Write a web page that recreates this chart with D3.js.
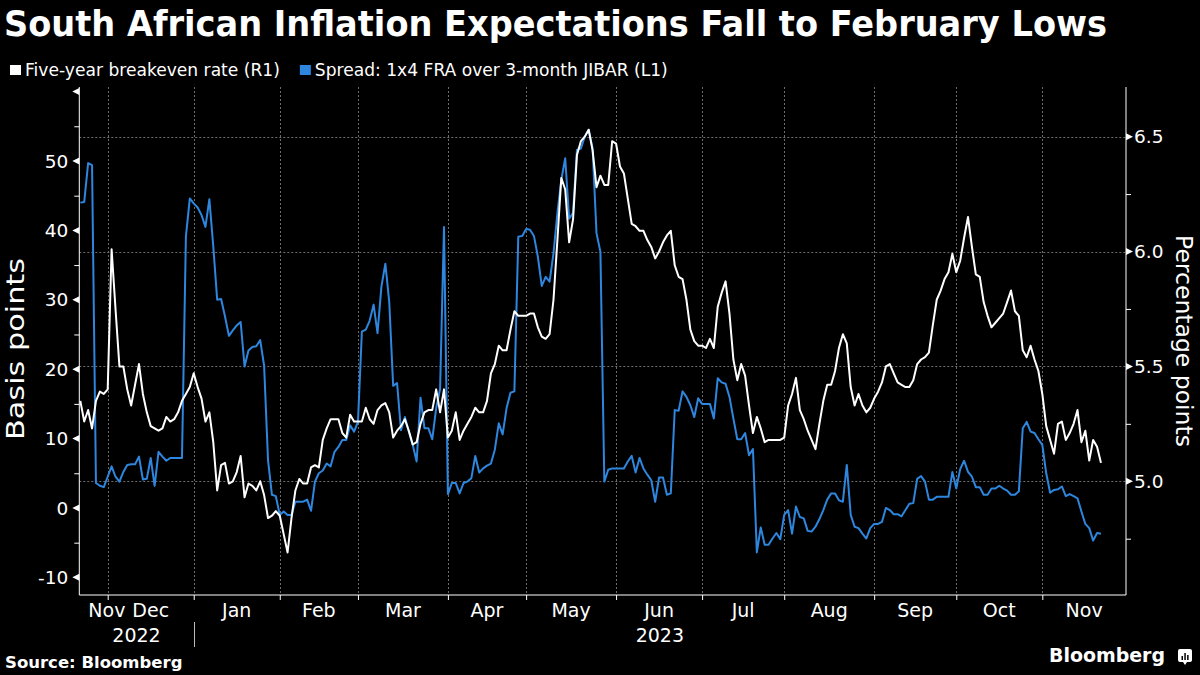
<!DOCTYPE html>
<html>
<head>
<meta charset="utf-8">
<script src="https://cdn.jsdelivr.net/npm/d3@7"></script>
<style>
  html, body { margin: 0; padding: 0; background: #000; }
  svg { display: block; }
  text { font-family: "DejaVu Sans", "Noto Sans", sans-serif; fill: #fff; }
</style>
</head>
<body>
<svg id="chart" width="1200" height="675"></svg>
<script>
// ---------------- DATA ----------------
const titleText = "South African Inflation Expectations Fall to February Lows";
const seriesNames = ["Five-year breakeven rate (R1)", "Spread: 1x4 FRA over 3-month JIBAR (L1)"];
const sourceText = "Source: Bloomberg";
const leftAxisTitle = "Basis points";
const rightAxisTitle = "Percentage points";

// one value per weekday (business day), starting at startDate
const startDate = "2022-11-22";
const axisEndDate = "2023-11-30";

const monthNames = ["Jan","Feb","Mar","Apr","May","Jun","Jul","Aug","Sep","Oct","Nov","Dec"];
const leftTicks = [-10, 0, 10, 20, 30, 40, 50, 60];
const leftTickLabels = ["-10", "0", "10", "20", "30", "40", "50", ""];
const leftMinorTicks = [-5, 5, 15, 25, 35, 45, 55];
const rightTicks = [5.0, 5.5, 6.0, 6.5];
const rightTickLabels = ["5.0", "5.5", "6.0", "6.5"];
const rightMinorTicks = [4.75, 5.25, 5.75, 6.25];
const leftDomain = [-12.54, 60.66];
const rightDomain = [4.505, 6.716];

// Spread: 1x4 FRA over 3-month JIBAR, basis points (left axis)
const spread = [
  44.0,44.1,49.7,49.4,3.6,3.2,3.0,4.5,6.0,4.5,
  3.8,5.2,6.2,6.3,6.3,7.4,4.1,4.2,7.2,3.2,
  8.1,7.4,6.8,7.2,7.2,7.2,7.2,39.1,44.6,43.9,
  43.3,42.2,40.5,44.5,37.7,30.0,30.1,27.6,24.8,25.6,
  26.3,26.8,20.4,22.7,23.2,23.3,24.2,20.5,6.9,1.9,
  1.7,-1.0,-0.5,-1.0,-1.0,0.9,0.9,0.9,1.2,-0.4,
  3.8,5.0,5.4,6.4,6.0,8.1,8.8,9.8,9.8,11.9,
  11.0,12.4,25.4,25.7,27.0,29.3,25.2,31.9,35.2,29.7,
  17.6,18.0,11.2,13.1,11.0,9.1,6.7,15.9,11.5,11.5,
  9.9,14.4,17.1,40.5,2.0,3.6,3.6,2.1,3.6,3.8,
  4.3,7.5,5.1,5.7,6.1,6.4,8.4,12.2,10.6,14.4,
  16.6,16.8,39.1,39.2,40.2,40.1,39.2,36.2,32.0,33.3,
  32.6,36.7,42.5,47.3,50.4,41.7,42.5,51.6,51.8,53.5,
  54.5,51.8,39.6,36.9,3.8,5.5,5.7,5.7,5.7,5.7,
  6.7,7.5,5.1,7.2,5.7,4.8,4.0,0.9,4.4,4.4,
  1.9,2.1,14.1,14.0,16.8,16.0,14.8,13.1,15.8,15.0,
  15.0,15.0,12.9,18.7,18.1,17.9,16.0,12.9,9.9,9.9,
  10.8,7.6,8.5,-6.4,-2.8,-5.3,-5.3,-4.4,-3.6,-4.5,
  -1.0,-0.3,-3.7,0.2,-1.3,-1.5,-3.3,-3.4,-2.7,-1.6,
  -0.3,1.2,2.1,2.1,1.1,0.9,6.2,-1.0,-2.7,-2.9,
  -3.7,-4.4,-2.9,-2.3,-2.3,-2.0,0.0,-0.3,-0.9,-0.9,
  -1.2,-0.3,0.6,0.7,4.2,4.6,3.8,1.2,1.2,1.6,
  1.6,1.6,1.6,5.2,2.8,5.6,6.8,5.2,4.5,3.0,
  3.0,1.9,1.9,2.8,2.8,3.2,2.8,2.5,1.9,1.9,
  2.4,11.5,12.4,11.0,10.8,9.9,9.1,5.0,2.2,2.6,
  2.7,3.1,1.7,2.0,1.7,1.4,-0.5,-2.3,-2.9,-4.7,
  -3.6,-3.7
];

// Five-year breakeven rate, percent (right axis)
const breakeven = [
  5.35,5.26,5.31,5.23,5.35,5.39,5.38,5.40,6.01,5.75,
  5.50,5.50,5.40,5.33,5.42,5.51,5.38,5.30,5.24,5.23,
  5.22,5.23,5.28,5.26,5.27,5.30,5.35,5.38,5.41,5.47,
  5.41,5.36,5.26,5.30,5.17,4.96,5.07,5.08,4.99,5.00,
  5.04,5.11,4.93,4.99,4.98,4.96,5.00,4.94,4.84,4.85,
  4.87,4.85,4.77,4.69,4.84,4.96,5.01,4.99,4.99,5.06,
  5.07,5.06,5.18,5.23,5.27,5.27,5.27,5.21,5.19,5.29,
  5.26,5.26,5.26,5.32,5.27,5.25,5.31,5.33,5.34,5.30,
  5.19,5.22,5.24,5.27,5.22,5.16,5.17,5.25,5.30,5.31,
  5.31,5.40,5.30,5.40,5.19,5.22,5.30,5.18,5.22,5.25,
  5.28,5.32,5.30,5.30,5.35,5.47,5.51,5.59,5.57,5.57,
  5.66,5.74,5.72,5.72,5.72,5.73,5.73,5.67,5.63,5.62,
  5.64,5.79,6.05,6.32,6.27,6.04,6.14,6.42,6.48,6.50,
  6.53,6.44,6.28,6.33,6.29,6.29,6.48,6.47,6.37,6.34,
  6.23,6.12,6.11,6.09,6.09,6.05,6.02,5.97,6.00,6.04,
  6.07,6.09,5.94,5.89,5.88,5.79,5.66,5.61,5.59,5.59,
  5.58,5.62,5.58,5.76,5.82,5.87,5.73,5.53,5.44,5.51,
  5.46,5.33,5.21,5.28,5.23,5.17,5.18,5.18,5.18,5.18,
  5.19,5.33,5.38,5.45,5.31,5.27,5.22,5.18,5.14,5.25,
  5.35,5.42,5.42,5.48,5.58,5.64,5.60,5.41,5.33,5.38,
  5.33,5.30,5.32,5.36,5.39,5.43,5.50,5.51,5.47,5.43,
  5.42,5.41,5.41,5.44,5.51,5.53,5.54,5.56,5.68,5.79,
  5.83,5.88,5.91,5.99,5.91,5.96,6.06,6.15,6.02,5.90,
  5.89,5.78,5.72,5.67,5.69,5.71,5.73,5.78,5.83,5.74,
  5.72,5.57,5.54,5.59,5.53,5.48,5.38,5.24,5.18,5.12,
  5.25,5.26,5.18,5.21,5.25,5.31,5.17,5.22,5.09,5.18,
  5.15,5.08
];

const colors = { breakeven: "#ffffff", spread: "#2e86de", grid: "#6b6b6b", bg: "#000000" };

// ---------------- LAYOUT ----------------
const W = 1200, H = 675;
const plot = { left: 79.3, right: 1126, top: 87, bottom: 595 };

const svg = d3.select("#chart");
svg.append("rect").attr("width", W).attr("height", H).attr("fill", colors.bg);

// business-day calendar (x positions are by weekday index, as in the source)
const parse = d3.utcParse("%Y-%m-%d");
const allDays = d3.utcDay.range(parse(startDate), d3.utcDay.offset(parse(axisEndDate), 1))
  .filter(d => d.getUTCDay() !== 0 && d.getUTCDay() !== 6);
const lastIdx = allDays.length - 1;

const x = d3.scaleLinear().domain([-0.26, lastIdx + 0.4]).range([plot.left, plot.right]);
const yL = d3.scaleLinear().domain(leftDomain).range([plot.bottom, plot.top]);
const yR = d3.scaleLinear().domain(rightDomain).range([plot.bottom, plot.top]);

// month boundaries
const monthStarts = [];
allDays.forEach((d, i) => { if (i > 0 && d.getUTCMonth() !== allDays[i - 1].getUTCMonth()) monthStarts.push(i); });
const yearStarts = monthStarts.filter(i => allDays[i].getUTCMonth() === 0);

// ---------------- TITLE & LEGEND ----------------
svg.append("text").attr("x", 4).attr("y", 36)
  .attr("font-size", 35).attr("font-weight", "bold")
  .attr("textLength", 1103).attr("lengthAdjust", "spacingAndGlyphs")
  .text(titleText);

const legend = svg.append("g");
const legItems = [
  { name: seriesNames[0], color: colors.breakeven },
  { name: seriesNames[1], color: colors.spread }
];
let lx = 10;
legItems.forEach(it => {
  legend.append("rect").attr("x", lx).attr("y", 65).attr("width", 11).attr("height", 10).attr("fill", it.color);
  const t = legend.append("text").attr("x", lx + 15).attr("y", 76).attr("font-size", 17.1).text(it.name);
  lx += 15 + t.node().getComputedTextLength() + 20;
});

// ---------------- GRID ----------------
const grid = svg.append("g").attr("stroke", colors.grid).attr("stroke-width", 1).attr("stroke-dasharray", "2,2");
grid.selectAll("line.h").data(rightTicks).join("line")
  .attr("x1", plot.left).attr("x2", plot.right)
  .attr("y1", d => Math.round(yR(d)) + 0.5).attr("y2", d => Math.round(yR(d)) + 0.5);
grid.selectAll("line.v").data(monthStarts).join("line")
  .attr("y1", plot.top).attr("y2", plot.bottom)
  .attr("x1", d => Math.round(x(d)) + 0.5).attr("x2", d => Math.round(x(d)) + 0.5);

// ---------------- LINES ----------------
const lineL = d3.line().x((d, i) => x(i)).y(d => yL(d));
const lineR = d3.line().x((d, i) => x(i)).y(d => yR(d));
svg.append("path").datum(spread).attr("d", lineL)
  .attr("fill", "none").attr("stroke", colors.spread).attr("stroke-width", 2).attr("stroke-linejoin", "round");
svg.append("path").datum(breakeven).attr("d", lineR)
  .attr("fill", "none").attr("stroke", colors.breakeven).attr("stroke-width", 2).attr("stroke-linejoin", "round");

// ---------------- AXES ----------------
const axisColor = "#ffffff";
// left axis
const gL = svg.append("g").attr("transform", `translate(${plot.left},0)`);
gL.call(d3.axisLeft(yL).tickValues(leftMinorTicks).tickSize(5).tickFormat(""));
gL.select(".domain").remove();
gL.selectAll(".tick line").attr("stroke", axisColor);
gL.append("line").attr("x1", 0).attr("x2", 0).attr("y1", plot.top).attr("y2", plot.bottom).attr("stroke", axisColor);
leftTicks.forEach((v, i) => {
  const yy = yL(v);
  gL.append("path").attr("d", `M0,${yy - 3.5} L-7,${yy} L0,${yy + 3.5} Z`).attr("fill", axisColor);
  if (leftTickLabels[i]) gL.append("text").attr("x", -11).attr("y", yy).attr("dy", "0.36em")
    .attr("text-anchor", "end").attr("font-size", 18.5).text(leftTickLabels[i]);
});

// right axis
const gR = svg.append("g").attr("transform", `translate(${plot.right},0)`);
gR.call(d3.axisRight(yR).tickValues(rightMinorTicks).tickSize(5).tickFormat(""));
gR.select(".domain").remove();
gR.selectAll(".tick line").attr("stroke", axisColor);
gR.append("line").attr("x1", 0).attr("x2", 0).attr("y1", plot.top).attr("y2", plot.bottom).attr("stroke", axisColor);
rightTicks.forEach((v, i) => {
  const yy = yR(v);
  gR.append("path").attr("d", `M0,${yy - 3.5} L7,${yy} L0,${yy + 3.5} Z`).attr("fill", axisColor);
  gR.append("text").attr("x", 8).attr("y", yy).attr("dy", "0.36em")
    .attr("text-anchor", "start").attr("font-size", 18.5).text(rightTickLabels[i]);
});

// bottom axis
const gB = svg.append("g").attr("transform", `translate(0,${plot.bottom})`);
gB.call(d3.axisBottom(x).tickValues(monthStarts).tickSize(5).tickFormat(""));
gB.select(".domain").remove();
gB.selectAll(".tick line").attr("stroke", axisColor);
gB.append("line").attr("x1", plot.left).attr("x2", plot.right).attr("y1", 0).attr("y2", 0).attr("stroke", axisColor);

// month labels centred in each month's span
const segBounds = [x.domain()[0], ...monthStarts, x.domain()[1]];
for (let s = 0; s < segBounds.length - 1; s++) {
  const firstIdx = s === 0 ? 0 : monthStarts[s - 1];
  const label = monthNames[allDays[firstIdx].getUTCMonth()];
  let cx = (x(segBounds[s]) + x(segBounds[s + 1])) / 2;
  const t = gB.append("text").attr("y", 22).attr("text-anchor", "middle").attr("font-size", 19).text(label);
  const w = t.node().getComputedTextLength();
  if (cx - w / 2 < plot.left + 9) cx = plot.left + 9 + w / 2;
  t.attr("x", cx);
}
// year labels
const yearBounds = [x.domain()[0], ...yearStarts, x.domain()[1]];
for (let s = 0; s < yearBounds.length - 1; s++) {
  const firstIdx = s === 0 ? 0 : yearStarts[s - 1];
  const cx = (x(yearBounds[s]) + x(yearBounds[s + 1])) / 2;
  gB.append("text").attr("x", cx).attr("y", 47).attr("text-anchor", "middle").attr("font-size", 19)
    .text(String(allDays[firstIdx].getUTCFullYear()));
}
yearStarts.forEach(i => {
  gB.append("line").attr("x1", Math.round(x(i)) + 0.5).attr("x2", Math.round(x(i)) + 0.5)
    .attr("y1", 27).attr("y2", 52).attr("stroke", "#bbbbbb").attr("stroke-width", 1);
});

// axis titles
svg.append("text").attr("transform", `translate(24,349) rotate(-90)`)
  .attr("text-anchor", "middle").attr("font-size", 24)
  .attr("textLength", 182).attr("lengthAdjust", "spacingAndGlyphs").text(leftAxisTitle);
svg.append("text").attr("transform", `translate(1176,341) rotate(90)`)
  .attr("text-anchor", "middle").attr("font-size", 23.5).text(rightAxisTitle);

// ---------------- FOOTER ----------------
svg.append("text").attr("x", 5).attr("y", 668).attr("font-size", 16.5).attr("font-weight", "bold").text(sourceText);
svg.append("text").attr("x", 1049).attr("y", 662).attr("font-size", 19).attr("font-weight", "bold")
  .attr("textLength", 116).attr("lengthAdjust", "spacingAndGlyphs").text("Bloomberg");
const logo = svg.append("g").attr("transform", "translate(1178,649)");
logo.append("rect").attr("width", 14).attr("height", 13).attr("rx", 2).attr("fill", "#fff");
logo.append("path").attr("d", "M5,13 L7,16 L9,13 Z").attr("fill", "#fff");
[[3.5,7,1.5,4],[6.3,4,1.5,7],[9.1,6,1.5,5]].forEach(b => {
  logo.append("rect").attr("x", b[0]).attr("y", b[1]).attr("width", b[2]).attr("height", b[3]).attr("fill", "#000");
});
</script>
</body>
</html>
